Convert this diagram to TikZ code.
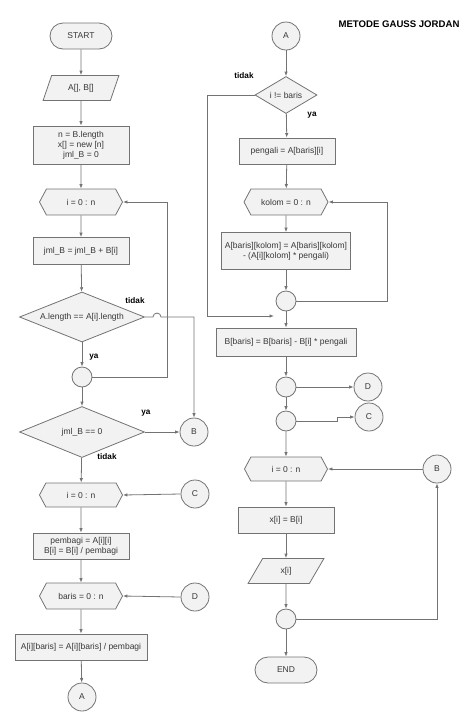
\documentclass[tikz,border=0pt]{standalone}
\usepackage{fontspec}
\setmainfont{Liberation Sans}
\usetikzlibrary{shapes.geometric,shapes.misc,shapes.symbols,arrows.meta}

\definecolor{linegray}{RGB}{115,115,115}
\definecolor{boxgray}{RGB}{242,242,242}
\definecolor{textgray}{RGB}{55,55,55}

\tikzset{
  base/.style={draw=linegray, fill=boxgray, line width=0.8pt, text=textgray,
    font=\fontsize{8.5}{10}\selectfont, inner sep=1pt, align=center},
  terminal/.style={base, rounded rectangle, minimum width=64pt, minimum height=26pt},
  process/.style={base, rectangle, minimum height=26pt},
  io/.style={base, trapezium, trapezium left angle=68, trapezium right angle=112,
    trapezium stretches=true, minimum width=76pt, minimum height=25pt},
  loopbox/.style={base, signal, signal to=west and east, signal pointer angle=124,
    minimum width=83pt, minimum height=26pt},
  decision/.style={base, diamond, inner sep=0pt},
  connector/.style={base, circle, inner sep=0pt, minimum size=20pt},
  offpage/.style={connector, minimum size=28pt},
  arr/.style={draw=linegray, line width=0.8pt, -{Latex[length=4.5pt,width=3.5pt]}},
  lbl/.style={font=\fontsize{8.2}{10}\selectfont\bfseries, inner sep=0pt},
}

\begin{document}
\begin{tikzpicture}[x=1pt,y=1pt,yscale=-1,xscale=1]
  \useasboundingbox (0,0) rectangle (474,724);

  % Text Node
  \node[font=\fontsize{9.6}{11}\selectfont\bfseries] (title) at (399,24) {METODE GAUSS JORDAN};

  %left column
  \node[terminal] (start) at (81,36) {START};
  \node[io] (inp) at (81,88) {A[], B[]};
  \node[process, minimum width=96pt, minimum height=38pt] (init) at (81,145) {n = B.length\\x[] = new [n]\\jml\_B = 0};
  \node[loopbox] (for1) at (81,202) {i = 0 : n};
  \node[process, minimum width=96pt, minimum height=27pt] (sum) at (81,251) {jml\_B = jml\_B + B[i]};
  \node[decision, aspect=2.5, minimum width=125pt, minimum height=50pt] (dec1) at (82,317) {A.length == A[i].length};
  \node[connector] (con1) at (82,377) {};
  \node[decision, aspect=2.5, minimum width=125pt, minimum height=51pt] (dec2) at (82,432) {jml\_B == 0};
  \node[offpage] (B1) at (194,432) {B};
  \node[loopbox, minimum height=24pt] (for2) at (81,495) {i = 0 : n};
  \node[offpage] (C1) at (195,494) {C};
  \node[process, minimum width=96pt] (piv) at (81,546) {pembagi = A[i][i]\\B[i] = B[i] / pembagi};
  \node[loopbox] (for3) at (81,596) {baris = 0 : n};
  \node[offpage] (D1) at (195,597) {D};
  \node[process, minimum width=132pt] (norm) at (81,647) {A[i][baris] = A[i][baris] / pembagi};
  \node[offpage] (A1) at (82,697) {A};

  %right column
  \node[offpage] (A2) at (286,36) {A};
  \node[decision, aspect=1.7, minimum width=62pt, minimum height=37pt] (dec3) at (286,95) {i != baris};
  \node[process, minimum width=96pt] (mul) at (287,151) {pengali = A[baris][i]};
  \node[loopbox, minimum width=84pt] (for4) at (286,202) {kolom = 0 : n};
  \node[process, minimum width=129pt, minimum height=37pt] (upd) at (286,251) {A[baris][kolom] = A[baris][kolom]\\- (A[i][kolom] * pengali)};
  \node[connector] (con2) at (286,301) {};
  \node[process, minimum width=140pt, minimum height=28pt] (updB) at (286,342) {B[baris] = B[baris] - B[i] * pengali};
  \node[connector] (con3) at (286,387) {};
  \node[offpage] (D2) at (368,387) {D};
  \node[connector] (con4) at (286,421) {};
  \node[offpage] (C2) at (369,417) {C};
  \node[loopbox, minimum height=24pt] (for5) at (286,469) {i = 0 : n};
  \node[offpage] (B2) at (437,469) {B};
  \node[process, minimum width=96pt] (sol) at (286,520) {x[i] = B[i]};
  \node[io] (out) at (286,571) {x[i]};
  \node[connector] (con5) at (286,619) {};
  \node[terminal] (end) at (286,670) {END};
  \coordinate (merge) at (274,316);

  %Straight Lines
  \draw[arr] (start) -- (inp);
  \draw[arr] (inp) -- (init);
  \draw[arr] (init) -- (for1);
  \draw[arr] (for1) -- (sum);
  \draw[arr] (sum) -- (dec1);
  \draw[arr] (dec1) -- (con1);
  \draw[arr] (con1) -- (dec2);
  \draw[arr] (dec2) -- (for2);
  \draw[arr] (for2) -- (piv);
  \draw[arr] (piv) -- (for3);
  \draw[arr] (for3) -- (norm);
  \draw[arr] (norm) -- (A1);
  \draw[arr] (con1.east) -- ++(75,0) |- (for1.east);
  \draw[arr] (dec1.east) -- (153,317) arc (180:360:4) -| (B1.north);
  \draw[arr] (dec2.east) -- (B1.west);
  \draw[arr] (C1.west) -- (for2.east);
  \draw[arr] (D1.west) -- (for3.east);

  \draw[arr] (A2) -- (dec3);
  \draw[arr] (dec3) -- (mul);
  \draw[arr] (mul) -- (for4);
  \draw[arr] (for4) -- (upd);
  \draw[arr] (upd) -- (con2);
  \draw[arr] (con2) -- (updB);
  \draw[arr] (updB) -- (con3);
  \draw[arr] (con3) -- (con4);
  \draw[arr] (con4) -- (for5);
  \draw[arr] (for5) -- (sol);
  \draw[arr] (sol) -- (out);
  \draw[arr] (out) -- (con5);
  \draw[arr] (con5) -- (end);
  \draw[arr] (con2.east) -- ++(91,0) |- (for4.east);
  \draw[arr] (dec3.west) -- ++(-47,0) |- (merge);
  \draw[arr] (con3.east) -- (D2.west);
  \draw[arr] (con4.east) -- ++(41,0) |- (C2.west);
  \draw[arr] (B2.west) -- (for5.east);
  \draw[arr] (con5.east) -| (B2.south);

  % Text Node
  \node[lbl] (no1) at (135,301) {tidak};
  \node[lbl] (yes1) at (94,357) {ya};
  \node[lbl] (yes2) at (146,413) {ya};
  \node[lbl] (no2) at (107,457) {tidak};
  \node[lbl] (no3) at (244,76) {tidak};
  \node[lbl] (yes3) at (312,115) {ya};
\end{tikzpicture}
\end{document}
